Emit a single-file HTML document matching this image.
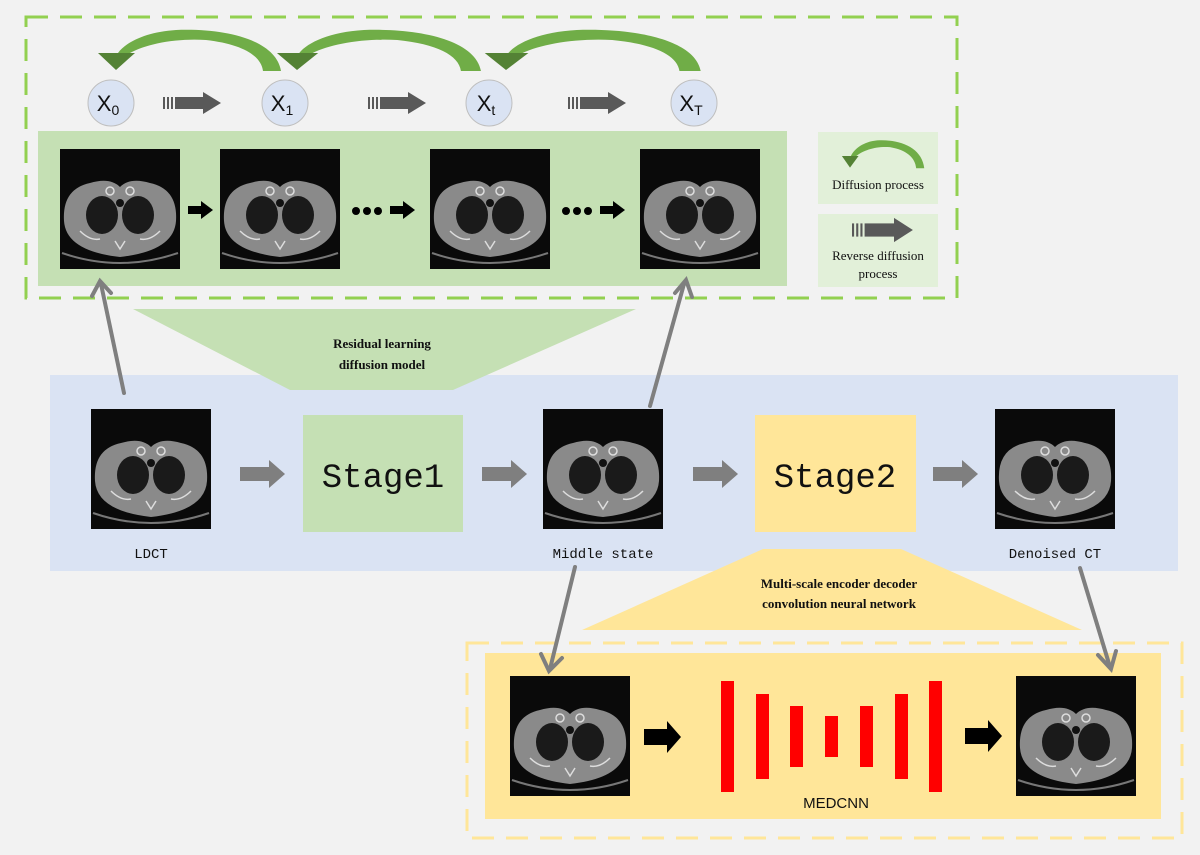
<!DOCTYPE html>
<html><head><meta charset="utf-8"><style>
html,body{margin:0;padding:0;background:#f2f2f2;}
svg{display:block}
</style></head><body>
<svg width="1200" height="855" viewBox="0 0 1200 855" xmlns="http://www.w3.org/2000/svg">
<defs>
<g id="ct">
<rect x="0" y="0" width="120" height="120" fill="#0a0a0a"/>
<path d="M4 72 Q2 40 30 34 Q50 28 60 38 Q70 28 90 34 Q118 40 116 72 Q114 102 60 108 Q6 102 4 72 Z" fill="#8a8a8a"/>
<path d="M2 104 Q60 124 118 104" stroke="#777" stroke-width="2" fill="none"/>
<ellipse cx="42" cy="66" rx="16" ry="19" fill="#1a1a1a"/>
<ellipse cx="78" cy="66" rx="16" ry="19" fill="#1a1a1a"/>
<circle cx="60" cy="54" r="4" fill="#111"/>
<circle cx="50" cy="42" r="4" fill="none" stroke="#ddd" stroke-width="1.5"/>
<circle cx="70" cy="42" r="4" fill="none" stroke="#ddd" stroke-width="1.5"/>
<path d="M20 82 Q30 92 40 90 M100 82 Q90 92 80 90 M55 92 L60 100 L65 92" stroke="#ddd" stroke-width="1.5" fill="none"/>
</g>
<g id="garrow">
<path d="M147 71 L165 71 C160 40 110 28 60 30 C30 32 10 42 2 53 L14 53 C30 44 60 38 90 40 C125 44 145 55 147 71 Z" fill="#70ad47"/>
<path d="M-18 53 L19 53 L0 70 Z" fill="#548235"/>
</g>
<g id="rarrow">
<rect x="0" y="-6" width="2" height="12" fill="#595959"/>
<rect x="4" y="-6" width="2" height="12" fill="#595959"/>
<rect x="8" y="-6" width="2" height="12" fill="#595959"/>
<rect x="12" y="-6" width="30" height="12" fill="#595959"/>
<path d="M40 -11 L58 0 L40 11 Z" fill="#595959"/>
</g>
<g id="barrow"><rect x="0" y="-4" width="14" height="8" fill="#000"/><path d="M13 -9 L25 0 L13 9 Z" fill="#000"/></g>
<g id="bigbarrow"><rect x="0" y="-8" width="24" height="16" fill="#000"/><path d="M23 -16 L37 0 L23 16 Z" fill="#000"/></g>
<g id="grey"><rect x="0" y="-7" width="30" height="14" fill="#7f7f7f"/><path d="M29 -14 L45 0 L29 14 Z" fill="#7f7f7f"/></g>
</defs>

<rect x="26" y="17" width="931" height="281" fill="none" stroke="#92d050" stroke-width="3" stroke-dasharray="22,12"/>
<use href="#garrow" transform="translate(116,0)"/>
<use href="#garrow" transform="translate(297,0) scale(1.115,1)"/>
<use href="#garrow" transform="translate(506,0) scale(1.18,1)"/>
<g font-family="Liberation Sans, sans-serif" font-size="22" fill="#111" text-anchor="middle">
<circle cx="111" cy="103" r="23" fill="#dae3f3" stroke="#bfbfbf"/>
<text x="108" y="111">X<tspan font-size="14" dy="4">0</tspan></text>
<circle cx="285" cy="103" r="23" fill="#dae3f3" stroke="#bfbfbf"/>
<text x="282" y="111">X<tspan font-size="14" dy="4">1</tspan></text>
<circle cx="489" cy="103" r="23" fill="#dae3f3" stroke="#bfbfbf"/>
<text x="486" y="111">X<tspan font-size="14" dy="4">t</tspan></text>
<circle cx="694" cy="103" r="23" fill="#dae3f3" stroke="#bfbfbf"/>
<text x="691" y="111">X<tspan font-size="14" dy="4">T</tspan></text>
</g>
<use href="#rarrow" transform="translate(163,103)"/>
<use href="#rarrow" transform="translate(368,103)"/>
<use href="#rarrow" transform="translate(568,103)"/>
<rect x="38" y="131" width="749" height="155" fill="#c5e0b4"/>
<use href="#ct" transform="translate(60,149)"/>
<use href="#ct" transform="translate(220,149)"/>
<use href="#ct" transform="translate(430,149)"/>
<use href="#ct" transform="translate(640,149)"/>
<use href="#barrow" transform="translate(188,210)"/>
<use href="#barrow" transform="translate(390,210)"/>
<use href="#barrow" transform="translate(600,210)"/>
<g fill="#000"><circle cx="356" cy="211" r="4"/><circle cx="367" cy="211" r="4"/><circle cx="378" cy="211" r="4"/>
<circle cx="566" cy="211" r="4"/><circle cx="577" cy="211" r="4"/><circle cx="588" cy="211" r="4"/></g>
<rect x="818" y="132" width="120" height="72" fill="#e2f0d9"/>
<rect x="818" y="214" width="120" height="73" fill="#e2f0d9"/>
<use href="#garrow" transform="translate(850,120) scale(0.45,0.68)"/>
<use href="#rarrow" transform="translate(852,230) scale(1.05,1.1)"/>
<g font-family="Liberation Serif, serif" font-size="13" fill="#111" text-anchor="middle">
<text x="878" y="189">Diffusion process</text>
<text x="878" y="260">Reverse diffusion</text>
<text x="878" y="278">process</text>
</g>
<rect x="50" y="375" width="1128" height="196" fill="#dae3f3"/>
<path d="M133 309 L636 309 L453 390 L290 390 Z" fill="#c5e0b4"/>
<g font-family="Liberation Serif, serif" font-size="13" font-weight="bold" fill="#111" text-anchor="middle">
<text x="382" y="348">Residual learning</text>
<text x="382" y="369">diffusion model</text>
</g>
<rect x="303" y="415" width="160" height="117" fill="#c5e0b4"/>
<rect x="755" y="415" width="161" height="117" fill="#ffe699"/>
<g font-family="Liberation Mono, monospace" font-size="34" fill="#111" text-anchor="middle">
<text x="383" y="487">Stage1</text>
<text x="835" y="487">Stage2</text>
</g>
<use href="#ct" transform="translate(91,409)"/>
<use href="#ct" transform="translate(543,409)"/>
<use href="#ct" transform="translate(995,409)"/>
<use href="#grey" transform="translate(240,474)"/>
<use href="#grey" transform="translate(482,474)"/>
<use href="#grey" transform="translate(693,474)"/>
<use href="#grey" transform="translate(933,474)"/>
<g font-family="Liberation Mono, monospace" font-size="14" fill="#111" text-anchor="middle">
<text x="151" y="558">LDCT</text>
<text x="603" y="558">Middle state</text>
<text x="1055" y="558">Denoised CT</text>
</g>
<path d="M763 549 L901 549 L1082 630 L582 630 Z" fill="#ffe699"/>
<g font-family="Liberation Serif, serif" font-size="13" font-weight="bold" fill="#111" text-anchor="middle">
<text x="839" y="588">Multi-scale encoder decoder</text>
<text x="839" y="608">convolution neural network</text>
</g>
<rect x="467" y="643" width="715" height="195" fill="none" stroke="#ffe699" stroke-width="3" stroke-dasharray="22,12"/>
<rect x="485" y="653" width="676" height="166" fill="#ffe699"/>
<use href="#ct" transform="translate(510,676)"/>
<use href="#ct" transform="translate(1016,676)"/>
<use href="#bigbarrow" transform="translate(644,737)"/>
<use href="#bigbarrow" transform="translate(965,736)"/>
<g fill="#ff0000">
<rect x="721" y="681" width="13" height="111"/>
<rect x="756" y="694" width="13" height="85"/>
<rect x="790" y="706" width="13" height="61"/>
<rect x="825" y="716" width="13" height="41"/>
<rect x="860" y="706" width="13" height="61"/>
<rect x="895" y="694" width="13" height="85"/>
<rect x="929" y="681" width="13" height="111"/>
</g>
<text x="836" y="808" font-family="Liberation Sans, sans-serif" font-size="15" fill="#111" text-anchor="middle">MEDCNN</text>
<g stroke="#7f7f7f" stroke-width="4" fill="none" stroke-linecap="round">
<path d="M124 393 L101 284"/><path d="M92 296 L100 281 L111 293"/>
<path d="M650 406 L684 284"/><path d="M675 293 L686 280 L692 297"/>
<path d="M575 567 L550 669"/><path d="M541 654 L549 671 L562 658"/>
<path d="M1080 568 L1110 667"/><path d="M1098 655 L1111 669 L1116 651"/>
</g>
</svg>
</body></html>
